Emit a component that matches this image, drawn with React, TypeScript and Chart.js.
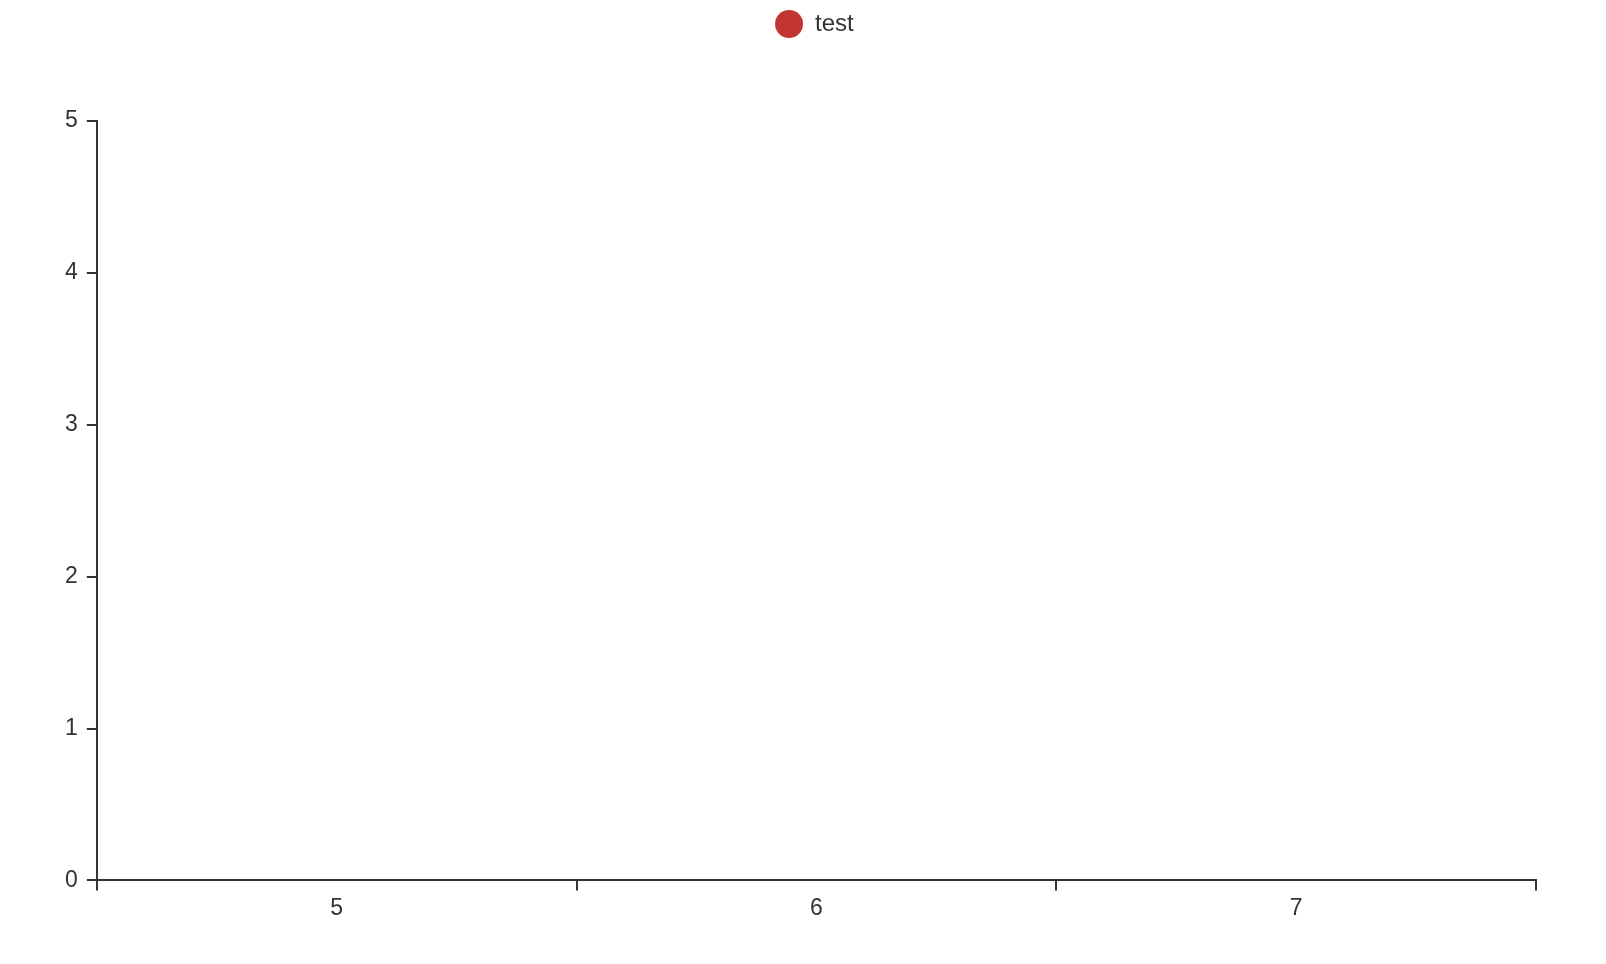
import React, { useEffect, useRef } from 'react';
import { Chart, registerables } from 'chart.js';

Chart.register(...registerables);

const categories = ['5', '6', '7'];
const seriesName = 'test';
const seriesValues = [0, 0, 0];
const yTicks = [0, 1, 2, 3, 4, 5];

const TEXT = '#333333';
const RED = '#c23531';
const FONT = '"Liberation Sans", Arial, Helvetica, sans-serif';

// legend band is taller than the legend itself, and the legend is centred over the plot
const legendPlacement = {
  id: 'legendPlacement',
  beforeLayout(chart: any) {
    const legend = chart.legend;
    if (legend && !legend._patched) {
      const fit = legend.fit.bind(legend);
      legend.fit = () => {
        fit();
        legend.height = 121;
      };
      legend._patched = true;
    }
  },
  afterLayout(chart: any) {
    const legend = chart.legend;
    if (!legend) return;
    legend.left = chart.chartArea.left - 2;
    legend.right = chart.chartArea.right - 2;
  },
};

export default function App() {
  const chartRef = useRef<HTMLCanvasElement>(null);

  useEffect(() => {
    if (!chartRef.current) return;
    const ctx = chartRef.current.getContext('2d');
    if (!ctx) return;

    const chart = new Chart(ctx, {
      type: 'bar',
      data: {
        labels: categories,
        datasets: [
          {
            label: seriesName,
            data: seriesValues,
            backgroundColor: RED,
            borderWidth: 0,
          },
        ],
      },
      options: {
        responsive: false,
        animation: false,
        layout: { padding: { left: 56, right: 70, top: 0, bottom: 38 } },
        plugins: {
          legend: {
            display: true,
            position: 'top',
            labels: {
              color: TEXT,
              font: { family: FONT, size: 24 },
              boxWidth: 28,
              boxHeight: 28,
              useBorderRadius: true,
              borderRadius: 14,
              padding: 10,
            },
          },
          tooltip: { enabled: false },
        },
        scales: {
          x: {
            type: 'category',
            offset: true,
            grid: {
              offset: true,
              drawOnChartArea: false,
              drawTicks: true,
              tickLength: 10,
              color: TEXT,
              lineWidth: 2,
            },
            border: { display: true, color: TEXT, width: 2 },
            ticks: {
              color: TEXT,
              font: { family: FONT, size: 23 },
              padding: 4,
              maxRotation: 0,
            },
          },
          y: {
            min: yTicks[0],
            max: yTicks[yTicks.length - 1],
            grid: {
              drawOnChartArea: false,
              drawTicks: true,
              tickLength: 10,
              color: TEXT,
              lineWidth: 2,
            },
            border: { display: true, color: TEXT, width: 2 },
            ticks: {
              stepSize: 1,
              color: TEXT,
              font: { family: FONT, size: 23 },
              padding: 9,
            },
            afterBuildTicks(scale: any) {
              scale.ticks = yTicks.map((v) => ({ value: v }));
            },
          },
        },
      },
      plugins: [legendPlacement],
    });

    return () => {
      chart.destroy();
    };
  }, []);

  return (
    <div style={{ position: 'absolute', left: 0, top: 0, width: 1606, height: 964, background: '#fff' }}>
      <canvas ref={chartRef} width={1606} height={964} style={{ display: 'block' }}></canvas>
    </div>
  );
}
